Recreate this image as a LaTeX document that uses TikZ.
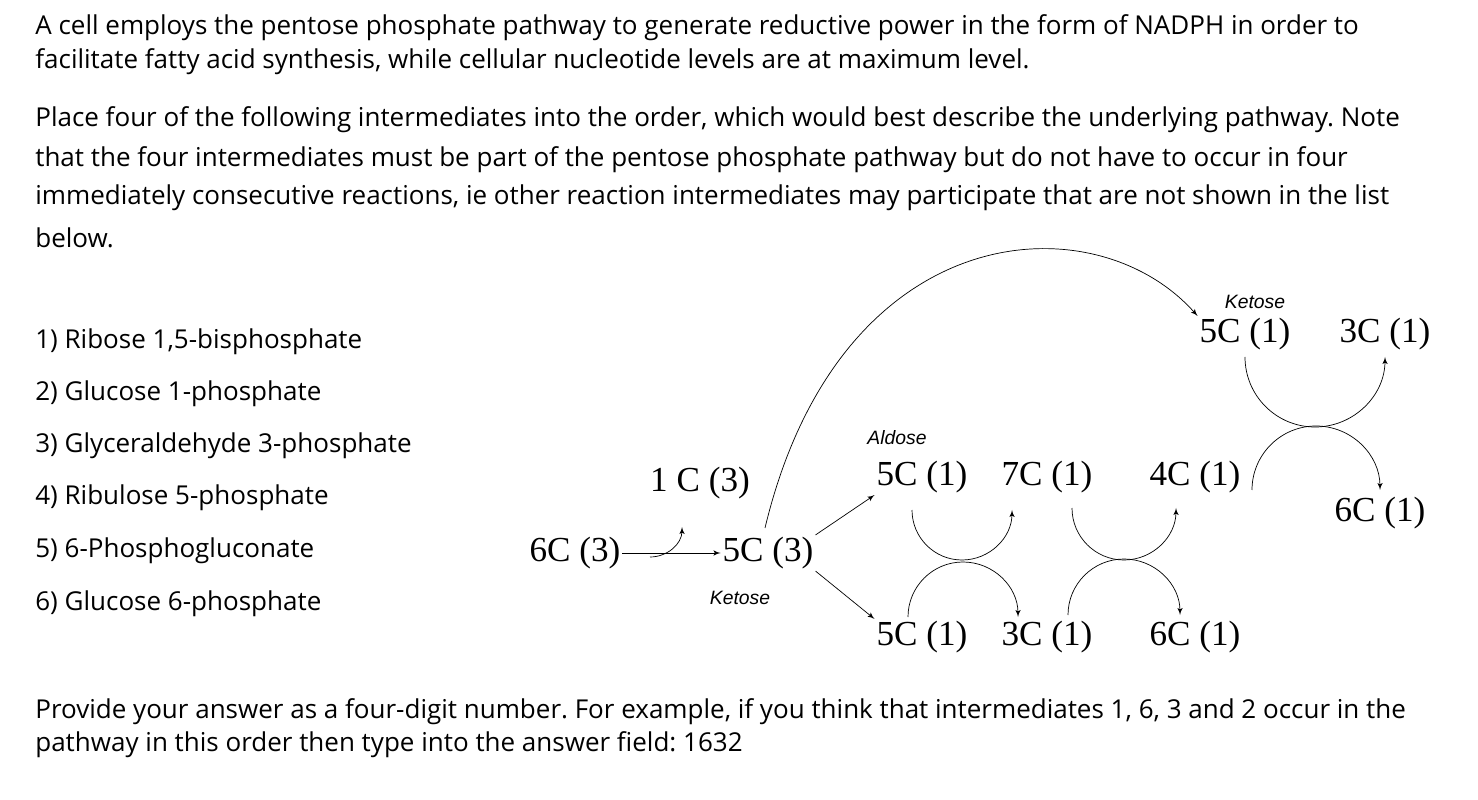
\documentclass[tikz,border=0pt]{standalone}
\usepackage{fontspec}
\setmainfont{Open Sans}
\newfontfamily\serifnum{Liberation Serif}
\newfontfamily\labelfont{Liberation Sans}
\usetikzlibrary{shapes,arrows,calc}
\frenchspacing

\begin{document}
\begin{tikzpicture}[x=0.02cm,y=-0.02cm,
    text_line/.style ={anchor=west, inner sep=0pt, font=\fontsize{14.8}{17}\selectfont},
    carbon/.style ={inner sep=1pt, font=\serifnum\fontsize{20}{22}\selectfont},
    sugar_tag/.style ={inner sep=0pt, font=\labelfont\itshape\fontsize{11}{13}\selectfont},
    line/.style ={draw, thin, -latex', shorten >=0pt}]
    \useasboundingbox (0,0) rectangle (1478,800);
    % question text
    \node [text_line] (q_one) at (35,28) {A cell employs the pentose phosphate pathway to generate reductive power in the form of NADPH in order to};
    \node [text_line] (q_two) at (35,62) {facilitate fatty acid synthesis, while cellular nucleotide levels are at maximum level.};
    \node [text_line] (p_one) at (35,120) {Place four of the following intermediates into the order, which would best describe the underlying pathway. Note};
    \node [text_line] (p_two) at (35,160) {that the four intermediates must be part of the pentose phosphate pathway but do not have to occur in four};
    \node [text_line] (p_three) at (35,198) {immediately consecutive reactions, ie other reaction intermediates may participate that are not shown in the list};
    \node [text_line] (p_four) at (35,238) {below.};
    % list of intermediates
    \node [text_line] (item_one) at (35,342) {1) Ribose 1,5-bisphosphate};
    \node [text_line] (item_two) at (35,394) {2) Glucose 1-phosphate};
    \node [text_line] (item_three) at (35,446) {3) Glyceraldehyde 3-phosphate};
    \node [text_line] (item_four) at (35,498) {4) Ribulose 5-phosphate};
    \node [text_line] (item_five) at (35,551) {5) 6-Phosphogluconate};
    \node [text_line] (item_six) at (35,604) {6) Glucose 6-phosphate};
    \node [text_line] (a_one) at (35,712) {Provide your answer as a four-digit number. For example, if you think that intermediates 1, 6, 3 and 2 occur in the};
    \node [text_line] (a_two) at (35,745) {pathway in this order then type into the answer field: 1632};
    % carbon skeletons
    \node [carbon] (hexose_start) at (575,553) {6C (3)};
    \node [carbon] (one_carbon) at (700,483) {1 C (3)};
    \node [carbon] (pentose_three) at (768,553) {5C (3)};
    \node [sugar_tag] (ketose_low) at (740,598) {Ketose};
    \node [sugar_tag] (aldose_tag) at (897,438) {Aldose};
    \node [carbon] (aldose_five) at (922,477) {5C (1)};
    \node [carbon] (hepta_seven) at (1047,477) {7C (1)};
    \node [carbon] (tetra_four) at (1195,477) {4C (1)};
    \node [carbon] (ketose_five) at (922,637) {5C (1)};
    \node [carbon] (triose_three) at (1047,637) {3C (1)};
    \node [carbon] (hexose_low) at (1195,637) {6C (1)};
    \node [sugar_tag] (ketose_high) at (1255,302) {Ketose};
    \node [carbon] (xylu_five) at (1245,334) {5C (1)};
    \node [carbon] (triose_high) at (1385,334) {3C (1)};
    \node [carbon] (hexose_right) at (1380,513) {6C (1)};
    % connecting nodes with paths
    \begin{scope}[every path/.style=line]
      \path (hexose_start.east) -- (pentose_three.west);
      \path ($(hexose_start)+(75,4)$) to[out=0,in=-90] ($(one_carbon)+(-18,44)$);
      \path (pentose_three.north east) -- (aldose_five.south west);
      \path (pentose_three.south east) -- (ketose_five.north west);
      \path ($(pentose_three)+(-3,-25)$) .. controls (840,215) and (1095,200) .. (xylu_five.north west);
      % first exchange
      \path ($(aldose_five)+(-10,33)$) arc[start angle=180,end angle=0,radius=50];
      \path ($(ketose_five)+(-14,-20)$) arc[start angle=180,end angle=360,radius=55];
      % second exchange
      \path ($(hepta_seven)+(25,31)$) arc[start angle=180,end angle=0,radius=52];
      \path ($(triose_three)+(21,-22)$) arc[start angle=180,end angle=360,radius=56];
      % third exchange
      \path ($(xylu_five)+(0,23)$) arc[start angle=180,end angle=0,radius=70];
      \path ($(tetra_four)+(57,13)$) arc[start angle=180,end angle=360,radius=64];
    \end{scope}
\end{tikzpicture}
\end{document}
